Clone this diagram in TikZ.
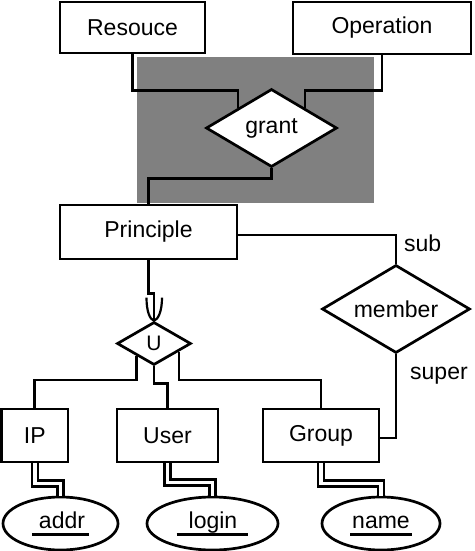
\documentclass[tikz,border=0pt]{standalone}
\usepackage{fontspec}
\setmainfont{Liberation Sans}
\usetikzlibrary{shapes.geometric,calc}
\definecolor{shadegray}{RGB}{128,128,128}
\newcommand\keyul[3]{\setbox0=\hbox{\rule{0pt}{16.8pt}\hspace{#1}#2\hspace{#3}}\rlap{\rule[-7.3pt]{\wd0}{2.6pt}}\box0}
\begin{document}
\begin{tikzpicture}[x=1pt,y=-1pt,
  every node/.style={font=\fontsize{23}{27}\selectfont},
  entity/.style={draw,line width=2.9pt,fill=white,rectangle,inner sep=0pt},
  rel/.style={draw,line width=2.7pt,fill=white,diamond,shape aspect=1.7,inner sep=0pt},
  attr/.style={draw,line width=2.7pt,fill=white,ellipse,inner sep=0pt},
  conn/.style={line width=2.7pt},
  total/.style={double,line width=2.3pt,double distance=3.8pt},
  lbl/.style={anchor=base west,inner sep=0pt}]
\useasboundingbox (0,0) rectangle (474,551);
\fill[white] (0,0) rectangle (474,551);
\fill[shadegray] (137,57) rectangle (374,203);

% entities
\node[entity,minimum width=145pt,minimum height=51pt] (res) at (132.5,27.5) {Resouce};
\node[entity,minimum width=178pt,minimum height=52pt] (op) at (382,28) {Operation};
\node[entity,minimum width=177pt,minimum height=54pt] (prin) at (148.5,232) {Principle};
\node[entity,minimum width=66.5pt,minimum height=53pt] (ip) at (34.75,435.5) {IP};
\node[entity,minimum width=101pt,minimum height=53pt] (user) at (167.5,435.5) {User};
\node[entity,minimum width=116pt,minimum height=53pt] (grp) at (321,435.5) {Group};

% relationships
\node[rel,minimum width=131pt,minimum height=78pt] (grant) at (271.5,128) {grant};
\node[rel,minimum width=148pt,minimum height=88pt] (mem) at (396,309) {member};
\node[rel,minimum width=74pt,minimum height=43pt,font=\fontsize{21}{25}\selectfont] (uu) at (154,343.5) {U};

% attributes
\node[attr,minimum width=115pt,minimum height=53pt] (addr) at (60.5,523.5) {\keyul{7pt}{addr}{4pt}};
\node[attr,minimum width=131pt,minimum height=53pt] (login) at (212.5,523.5) {\keyul{12pt}{login}{11pt}};
\node[attr,minimum width=118pt,minimum height=53pt] (name) at (381,523.5) {\keyul{2pt}{name}{2pt}};

% role labels
\node[lbl] (sublbl) at (404,251) {sub};
\node[lbl] (superlbl) at (410,379) {super};

% connectors
\draw[conn] (res.south) -- ++(0,36) -| (grant.north west);
\draw[conn] (op.south) -- ++(0,35) -| (grant.north east);
\draw[conn] (grant.south) -- ++(0,10) -| (prin.north);
\draw[conn] ([yshift=-3pt]prin.east) -| (mem.north);
\draw[conn] (mem.south) |- ([yshift=-2.5pt]grp.east);
\draw[conn] (prin.south) -- ++(0,33) -| (uu.north);
\draw[conn,line width=2.2pt] ($(uu.north)+(-7.5,-23)$) .. controls ($(uu.north)+(-7.5,-9)$) and ($(uu.north)+(-4,-1)$) .. (uu.north)
  .. controls ($(uu.north)+(4,-1)$) and ($(uu.north)+(8,-9)$) .. ($(uu.north)+(8,-23)$);
\coordinate (uleft) at ($(uu.south)!0.46!(uu.west)$);
\coordinate (uright) at ($(uu.south)!0.65!(uu.east)$);
\draw[conn] (uleft) -- (uleft |- 0,380) -| (ip.north);
\draw[conn] (uu.south) -- ++(0,17) -| (user.north);
\draw[conn] (uright) -- (uright |- 0,380) -| (grp.north);

\draw[total] (ip.south) -- ++(0,20) -| (addr.north);
\draw[total] (user.south) -- ++(0,19) -| (login.north);
\draw[total] (grp.south) -- ++(0,20) -| (name.north);
\end{tikzpicture}
\end{document}
